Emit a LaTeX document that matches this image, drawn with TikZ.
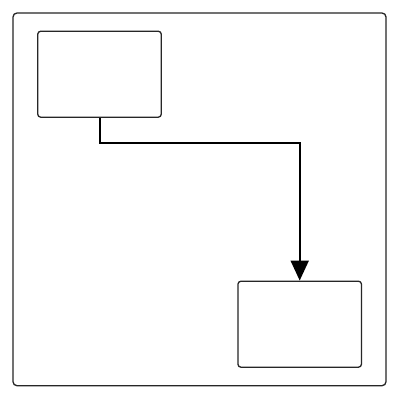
\documentclass[tikz,border=0pt]{standalone}
\usetikzlibrary{arrows.meta}
\begin{document}
\begin{tikzpicture}[x=1pt,y=1pt,
  boxnode/.style={draw=black!85,line width=1.3pt,rounded corners=3pt,minimum width=123.5pt,minimum height=86pt,inner sep=0pt,fill=white},
  conn/.style={draw=black,line width=2pt,-{Triangle[width=18pt,length=20pt]}}]
\useasboundingbox (0,0) rectangle (401,-400);
\fill[white] (0,0) rectangle (401,-400);
\draw[black!85,line width=1.3pt,rounded corners=4pt] (13,-13) rectangle (386,-385.7);
\node[boxnode] (a) at (99.5,-74.2) {};
\node[boxnode] (b) at (299.7,-324.2) {};
\coordinate (m) at (0,-142.5);
\draw[conn] (a.south) -- (a.south |- m) -| (b.north);
\end{tikzpicture}
\end{document}
